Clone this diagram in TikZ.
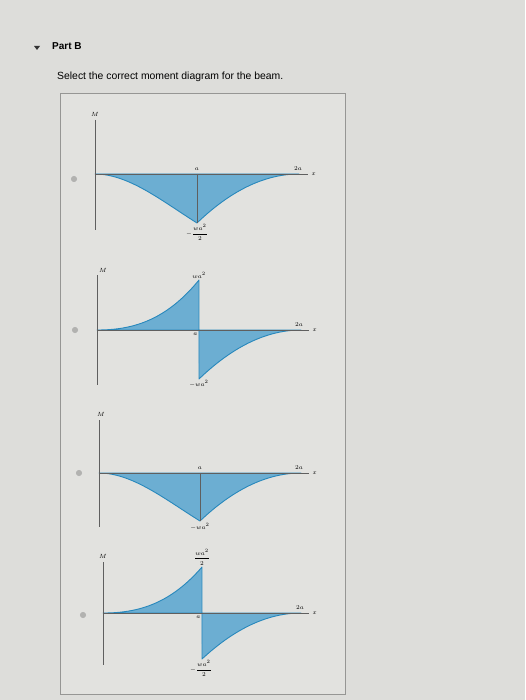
\documentclass[tikz,border=0pt]{standalone}
\usepackage{amsmath}
\usepackage{fontspec}
\setmainfont{Liberation Sans}
\usepackage{tikz}
\usetikzlibrary{positioning}

\definecolor{photobg}{RGB}{221,221,218}
\definecolor{panelbg}{RGB}{226,226,223}
\definecolor{panelline}{RGB}{150,150,148}
\definecolor{momfill}{RGB}{108,174,210}
\definecolor{momedge}{RGB}{40,136,188}
\definecolor{axisgray}{RGB}{95,95,95}
\definecolor{radiogray}{RGB}{178,178,176}

\tikzset{
  axisline/.style={draw=axisgray, line width=0.8pt},
  momarea/.style={fill=momfill, draw=momedge, line width=0.9pt, line join=round},
  lbl/.style={inner sep=0.5pt, font=\fontsize{6.5}{7}\selectfont},
  radio/.style={circle, fill=radiogray, draw=white!75!radiogray, minimum size=7pt, inner sep=0pt},
}

\begin{document}
\begin{tikzpicture}[x=1pt, y=-1pt]
  \useasboundingbox[fill=photobg] (0,0) rectangle (525,700);

  % heading
  \fill[black!80] (34,46) -- (40,46) -- (37,50) -- cycle;
  \node[anchor=west, inner sep=0pt, font=\fontsize{10}{12}\selectfont\bfseries] (part) at (52,46) {Part B};
  \node[anchor=west, inner sep=0pt, font=\fontsize{10.4}{12}\selectfont] (task) at (57,77) {Select the correct moment diagram for the beam.};
  \draw[panelline, fill=panelbg, line width=0.8pt] (60,93) rectangle (345,694);

  % option 1
  \begin{scope}[shift={(95,174)}]
    \node[radio] (r1) at (-21,5) {};
    \coordinate (o1) at (0,0);
    \coordinate (t1) at (0,-54);
    \coordinate (b1) at (0,56);
    \coordinate (e1) at (213,0);
    \coordinate (m1) at (102,0);
    \coordinate (v1) at (102,49);
    \filldraw[momarea] plot[domain=0:1, samples=40] ({102*\x},{49*\x*\x*(1.7-0.7*\x)})
      -- plot[domain=0:1, samples=40] ({102+102*\x},{49*(1-\x)*(1-\x)}) -- cycle;
    \draw[axisline] (t1) -- (b1);
    \draw[axisline] (o1) -- (e1);
    \draw[axisline, line width=0.6pt] (m1) -- (v1);
    \node[lbl, anchor=south] (M1) at (0,-57) {$M$};
    \node[lbl, anchor=south] (a1) at (102,-3) {$a$};
    \node[lbl, anchor=south] (aa1) at (203,-3) {$2a$};
    \node[lbl, right=3pt of e1] (x1) {$x$};
    \node[lbl, anchor=north] (h1) at (102,50) {$-\dfrac{wa^2}{2}$};
  \end{scope}

  % option 2
  \begin{scope}[shift={(97,330)}]
    \node[radio] (r2) at (-22,0) {};
    \coordinate (o2) at (0,0);
    \coordinate (t2) at (0,-55);
    \coordinate (b2) at (0,55);
    \coordinate (e2) at (212,0);
    \filldraw[momarea] plot[domain=0:1, samples=40] ({102*\x},{-50*(\x*\x+\x*\x*\x)/2})
      -- (102,49)
      -- plot[domain=0:1, samples=40] ({102+102*\x},{49*(1-\x)*(1-\x)}) -- cycle;
    \draw[axisline] (t2) -- (b2);
    \draw[axisline] (o2) -- (e2);
    \node[lbl, anchor=south] (M2) at (6,-57) {$M$};
    \node[lbl, anchor=north east] (a2) at (101,2) {$a$};
    \node[lbl, anchor=south] (aa2) at (202,-3) {$2a$};
    \node[lbl, right=3pt of e2] (x2) {$x$};
    \node[lbl, anchor=south] (h2) at (102,-51) {$wa^2$};
    \node[lbl, anchor=north] (g2) at (102,50) {$-wa^2$};
  \end{scope}

  % option 3
  \begin{scope}[shift={(99,473)}]
    \node[radio] (r3) at (-20,0) {};
    \coordinate (o3) at (0,0);
    \coordinate (t3) at (0,-53);
    \coordinate (b3) at (0,54);
    \coordinate (e3) at (210,0);
    \coordinate (m3) at (101,0);
    \coordinate (v3) at (101,48);
    \filldraw[momarea] plot[domain=0:1, samples=40] ({101*\x},{48*\x*\x*(1.7-0.7*\x)})
      -- plot[domain=0:1, samples=40] ({101+101*\x},{48*(1-\x)*(1-\x)}) -- cycle;
    \draw[axisline] (t3) -- (b3);
    \draw[axisline] (o3) -- (e3);
    \draw[axisline, line width=0.6pt] (m3) -- (v3);
    \node[lbl, anchor=south] (M3) at (2,-56) {$M$};
    \node[lbl, anchor=south] (a3) at (101,-3) {$a$};
    \node[lbl, anchor=south] (aa3) at (200,-3) {$2a$};
    \node[lbl, right=3pt of e3] (x3) {$x$};
    \node[lbl, anchor=north] (h3) at (101,50) {$-wa^2$};
  \end{scope}

  % option 4
  \begin{scope}[shift={(103,613)}]
    \node[radio] (r4) at (-20,2) {};
    \coordinate (o4) at (0,0);
    \coordinate (t4) at (0,-51);
    \coordinate (b4) at (0,52);
    \coordinate (e4) at (206,0);
    \filldraw[momarea] plot[domain=0:1, samples=40] ({99*\x},{-46*(\x*\x+\x*\x*\x)/2})
      -- (99,46)
      -- plot[domain=0:1, samples=40] ({99+99*\x},{46*(1-\x)*(1-\x)}) -- cycle;
    \draw[axisline] (t4) -- (b4);
    \draw[axisline] (o4) -- (e4);
    \node[lbl, anchor=south] (M4) at (0,-54) {$M$};
    \node[lbl, anchor=north east] (a4) at (98,2) {$a$};
    \node[lbl, anchor=south] (aa4) at (197,-3) {$2a$};
    \node[lbl, right=3pt of e4] (x4) {$x$};
    \node[lbl, anchor=south] (h4) at (99,-47) {$\dfrac{wa^2}{2}$};
    \node[lbl, anchor=north] (g4) at (98,47) {$-\dfrac{wa^2}{2}$};
  \end{scope}
\end{tikzpicture}
\end{document}
